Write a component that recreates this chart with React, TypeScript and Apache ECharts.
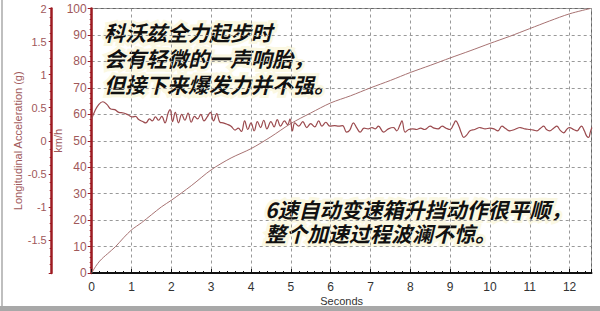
import React, { useEffect, useRef } from 'react';
import * as echarts from 'echarts';

const speedTime = [0, 0.1, 0.2, 0.3, 0.4, 0.6, 0.8, 1.0, 1.25, 1.5, 1.75, 2.0, 2.5, 3.0, 3.5, 4.0, 4.5, 5.0, 5.5, 6.0, 6.5, 7.0, 7.5, 8.0, 8.5, 9.0, 9.5, 10.0, 10.5, 11.0, 11.5, 12.0, 12.52];
const speedKmh = [0, 2.5, 4.5, 6, 7.3, 10, 13.3, 16.3, 19, 22, 25, 27.5, 33, 39, 43.5, 47, 51.5, 56.5, 60.5, 64.3, 67, 70, 72.8, 75.8, 78.5, 81.3, 84, 86.8, 89.5, 92.4, 95.3, 98, 100];

const accelTime = [
  0.0, 0.08, 0.18, 0.28, 0.38, 0.48, 0.58, 0.68, 0.8, 0.92, 1.02, 1.1, 1.18, 1.28, 1.36, 1.45, 1.52, 1.6, 1.68, 1.76,
  1.84, 1.92, 1.97, 2.03, 2.1, 2.18, 2.26, 2.34, 2.42, 2.5, 2.58, 2.66, 2.74, 2.82, 2.9, 2.98, 3.06, 3.14, 3.22, 3.3,
  3.4, 3.5, 3.6, 3.68, 3.76, 3.84, 3.92, 4.0, 4.08, 4.16, 4.24, 4.32, 4.4, 4.5, 4.58, 4.66, 4.74, 4.84, 4.92, 4.98,
  5.04, 5.1, 5.2, 5.3, 5.4, 5.5, 5.6, 5.7, 5.78, 5.88, 5.98, 6.1, 6.2, 6.3, 6.4, 6.48, 6.57, 6.66, 6.74, 6.84,
  6.94, 7.04, 7.12, 7.2, 7.33, 7.45, 7.58, 7.66, 7.74, 7.79, 7.87, 7.96, 8.06, 8.16, 8.26, 8.36, 8.5, 8.6, 8.7, 8.8,
  8.9, 9.0, 9.08, 9.14, 9.22, 9.28, 9.34, 9.42, 9.5, 9.62, 9.75, 9.88, 10.0, 10.1, 10.2, 10.3, 10.4, 10.5, 10.62, 10.76,
  10.88, 11.0, 11.1, 11.18, 11.27, 11.35, 11.42, 11.5, 11.6, 11.68, 11.76, 11.85, 11.94, 12.0, 12.1, 12.19, 12.26, 12.3, 12.37, 12.43,
  12.48, 12.52, 12.56,
];
const accelG = [
  0.33, 0.45, 0.55, 0.59, 0.55, 0.48, 0.47, 0.43, 0.42, 0.39, 0.36, 0.37, 0.32, 0.29, 0.27, 0.33, 0.3, 0.36, 0.31, 0.37,
  0.27, 0.42, 0.47, 0.29, 0.43, 0.27, 0.4, 0.31, 0.42, 0.28, 0.37, 0.33, 0.4, 0.3, 0.36, 0.43, 0.3, 0.41, 0.28, 0.27,
  0.25, 0.22, 0.16, 0.19, 0.14, 0.3, 0.17, 0.27, 0.15, 0.29, 0.2, 0.31, 0.18, 0.29, 0.21, 0.32, 0.22, 0.3, 0.24, 0.33,
  0.15, 0.27, 0.22, 0.29, 0.2, 0.26, 0.21, 0.3, 0.22, 0.28, 0.22, 0.23, 0.22, 0.23, 0.13, 0.16, 0.27, 0.19, 0.13, 0.19,
  0.18, 0.2, 0.18, 0.22, 0.13, 0.18, 0.2, 0.15, 0.24, 0.3, 0.13, 0.17, 0.18, 0.17, 0.19, 0.17, 0.22, 0.19, 0.18, 0.22,
  0.19, 0.17, 0.24, 0.3, 0.22, 0.12, 0.05, 0.09, 0.15, 0.17, 0.2, 0.18, 0.19, 0.18, 0.15, 0.22, 0.18, 0.15, 0.17, 0.2,
  0.18, 0.17, 0.16, 0.15, 0.19, 0.22, 0.17, 0.15, 0.19, 0.22, 0.16, 0.12, 0.18, 0.2, 0.17, 0.15, 0.2, 0.22, 0.15, 0.07,
  0.05, 0.13, 0.2,
];

const note1Lines = ['科沃兹全力起步时', '会有轻微的一声响胎，', '但接下来爆发力并不强。'];
const note2Lines = ['6速自动变速箱升挡动作很平顺，', '整个加速过程波澜不惊。'];

const AXIS_RED = '#9e1b22';
const LABEL_RED = '#a0585a';
const LATIN = '"Liberation Sans", Arial, sans-serif';
const NOTE_FONT = 'italic bold 21px "Noto Sans CJK SC"';

export default function App() {
  const ref = useRef<HTMLDivElement>(null);
  useEffect(() => {
    const chart = echarts.init(ref.current!, null, { renderer: 'svg' });
    const speedData = speedTime.map((t, i) => [t, speedKmh[i]]);
    const accelData = accelTime.map((t, i) => [t, accelG[i]]);
    const noteText = (text: string, x: number, y: number) => ({
      type: 'text', x, y, silent: true,
      style: {
        text, font: NOTE_FONT, fill: '#111', stroke: '#fbf8e2', lineWidth: 6, lineHeight: 22,
        verticalAlign: 'middle',
      },
    });
    chart.setOption({
      animation: false,
      backgroundColor: '#ffffff',
      grid: { left: 91.7, right: 8.5, top: 8.5, bottom: 36.5, show: true, borderColor: '#666', borderWidth: 1 },
      xAxis: {
        type: 'value', min: 0, max: 12.55, interval: 1,
        name: 'Seconds', nameLocation: 'middle', nameGap: 22, nameMoveOverlap: false,
        nameTextStyle: { color: '#333', fontSize: 11, fontFamily: LATIN },
        axisLine: { show: true, onZero: false, lineStyle: { color: '#111', width: 2 } },
        axisTick: { show: true, inside: true, length: 4, lineStyle: { color: '#111' } },
        minorTick: { show: true, splitNumber: 5, length: 2, lineStyle: { color: '#111' } },
        axisLabel: {
          color: '#333', fontSize: 12, margin: 8, fontFamily: LATIN,
          formatter: (v: number) => (Math.abs(v - Math.round(v)) < 1e-6 ? String(v) : ''),
        },
        splitLine: { show: true, lineStyle: { color: '#999', type: [3, 3], width: 1 } },
      },
      yAxis: [
        {
          type: 'value', min: 0, max: 100, interval: 10, position: 'left',
          name: 'km/h', nameLocation: 'middle', nameGap: 28, nameMoveOverlap: false,
          nameTextStyle: { color: LABEL_RED, fontSize: 11, fontFamily: LATIN },
          axisLine: { show: true, onZero: false, lineStyle: { color: AXIS_RED, width: 2.5 } },
          axisTick: { show: true, length: 4, lineStyle: { color: AXIS_RED } },
          minorTick: { show: true, splitNumber: 5, length: 2, lineStyle: { color: AXIS_RED } },
          axisLabel: { color: LABEL_RED, fontSize: 12, margin: 5, fontFamily: LATIN },
          splitLine: { show: true, lineStyle: { color: '#999', type: [3, 3], width: 1 } },
        },
        {
          type: 'value', min: -2, max: 2, interval: 0.5, position: 'left', offset: 40,
          name: 'Longitudinal Acceleration (g)', nameLocation: 'middle', nameGap: 28, nameMoveOverlap: false,
          nameTextStyle: { color: LABEL_RED, fontSize: 11, fontFamily: LATIN },
          axisLine: { show: true, onZero: false, lineStyle: { color: AXIS_RED, width: 2.5 } },
          axisTick: { show: true, length: 3, lineStyle: { color: AXIS_RED } },
          minorTick: { show: true, splitNumber: 4, length: 2, lineStyle: { color: AXIS_RED } },
          axisLabel: {
            color: LABEL_RED, fontSize: 11, margin: 5, fontFamily: LATIN,
            formatter: (v: number) => (v <= -2 ? '' : String(v)),
          },
          splitLine: { show: false },
        },
      ],
      series: [
        {
          type: 'line', yAxisIndex: 0, data: speedData, showSymbol: false, smooth: 0.3,
          lineStyle: { color: '#a77272', width: 1 },
        },
        {
          type: 'line', yAxisIndex: 1, data: accelData, showSymbol: false, smooth: 0.4,
          lineStyle: { color: '#9b4a4e', width: 1.2 },
        },
      ],
      graphic: [
        { type: 'line', shape: { x1: 2, y1: 0, x2: 2, y2: 307 }, style: { stroke: '#aaa', lineWidth: 1.5 }, silent: true },
        { type: 'rect', shape: { x: 0, y: 306, width: 600, height: 5 }, style: { fill: '#a8a8a8' }, silent: true },
        noteText(note1Lines[0], 104, 31.5),
        noteText(note1Lines[1], 104, 58),
        noteText(note1Lines[2], 104, 84),
        noteText(note2Lines[0], 265, 209),
        noteText(note2Lines[1], 265, 233),
      ],
    });
    return () => chart.dispose();
  }, []);
  return (
    <div
      ref={ref}
      style={{ position: 'absolute', left: 0, top: 0, width: 600, height: 311, background: '#fff' }}
    />
  );
}
